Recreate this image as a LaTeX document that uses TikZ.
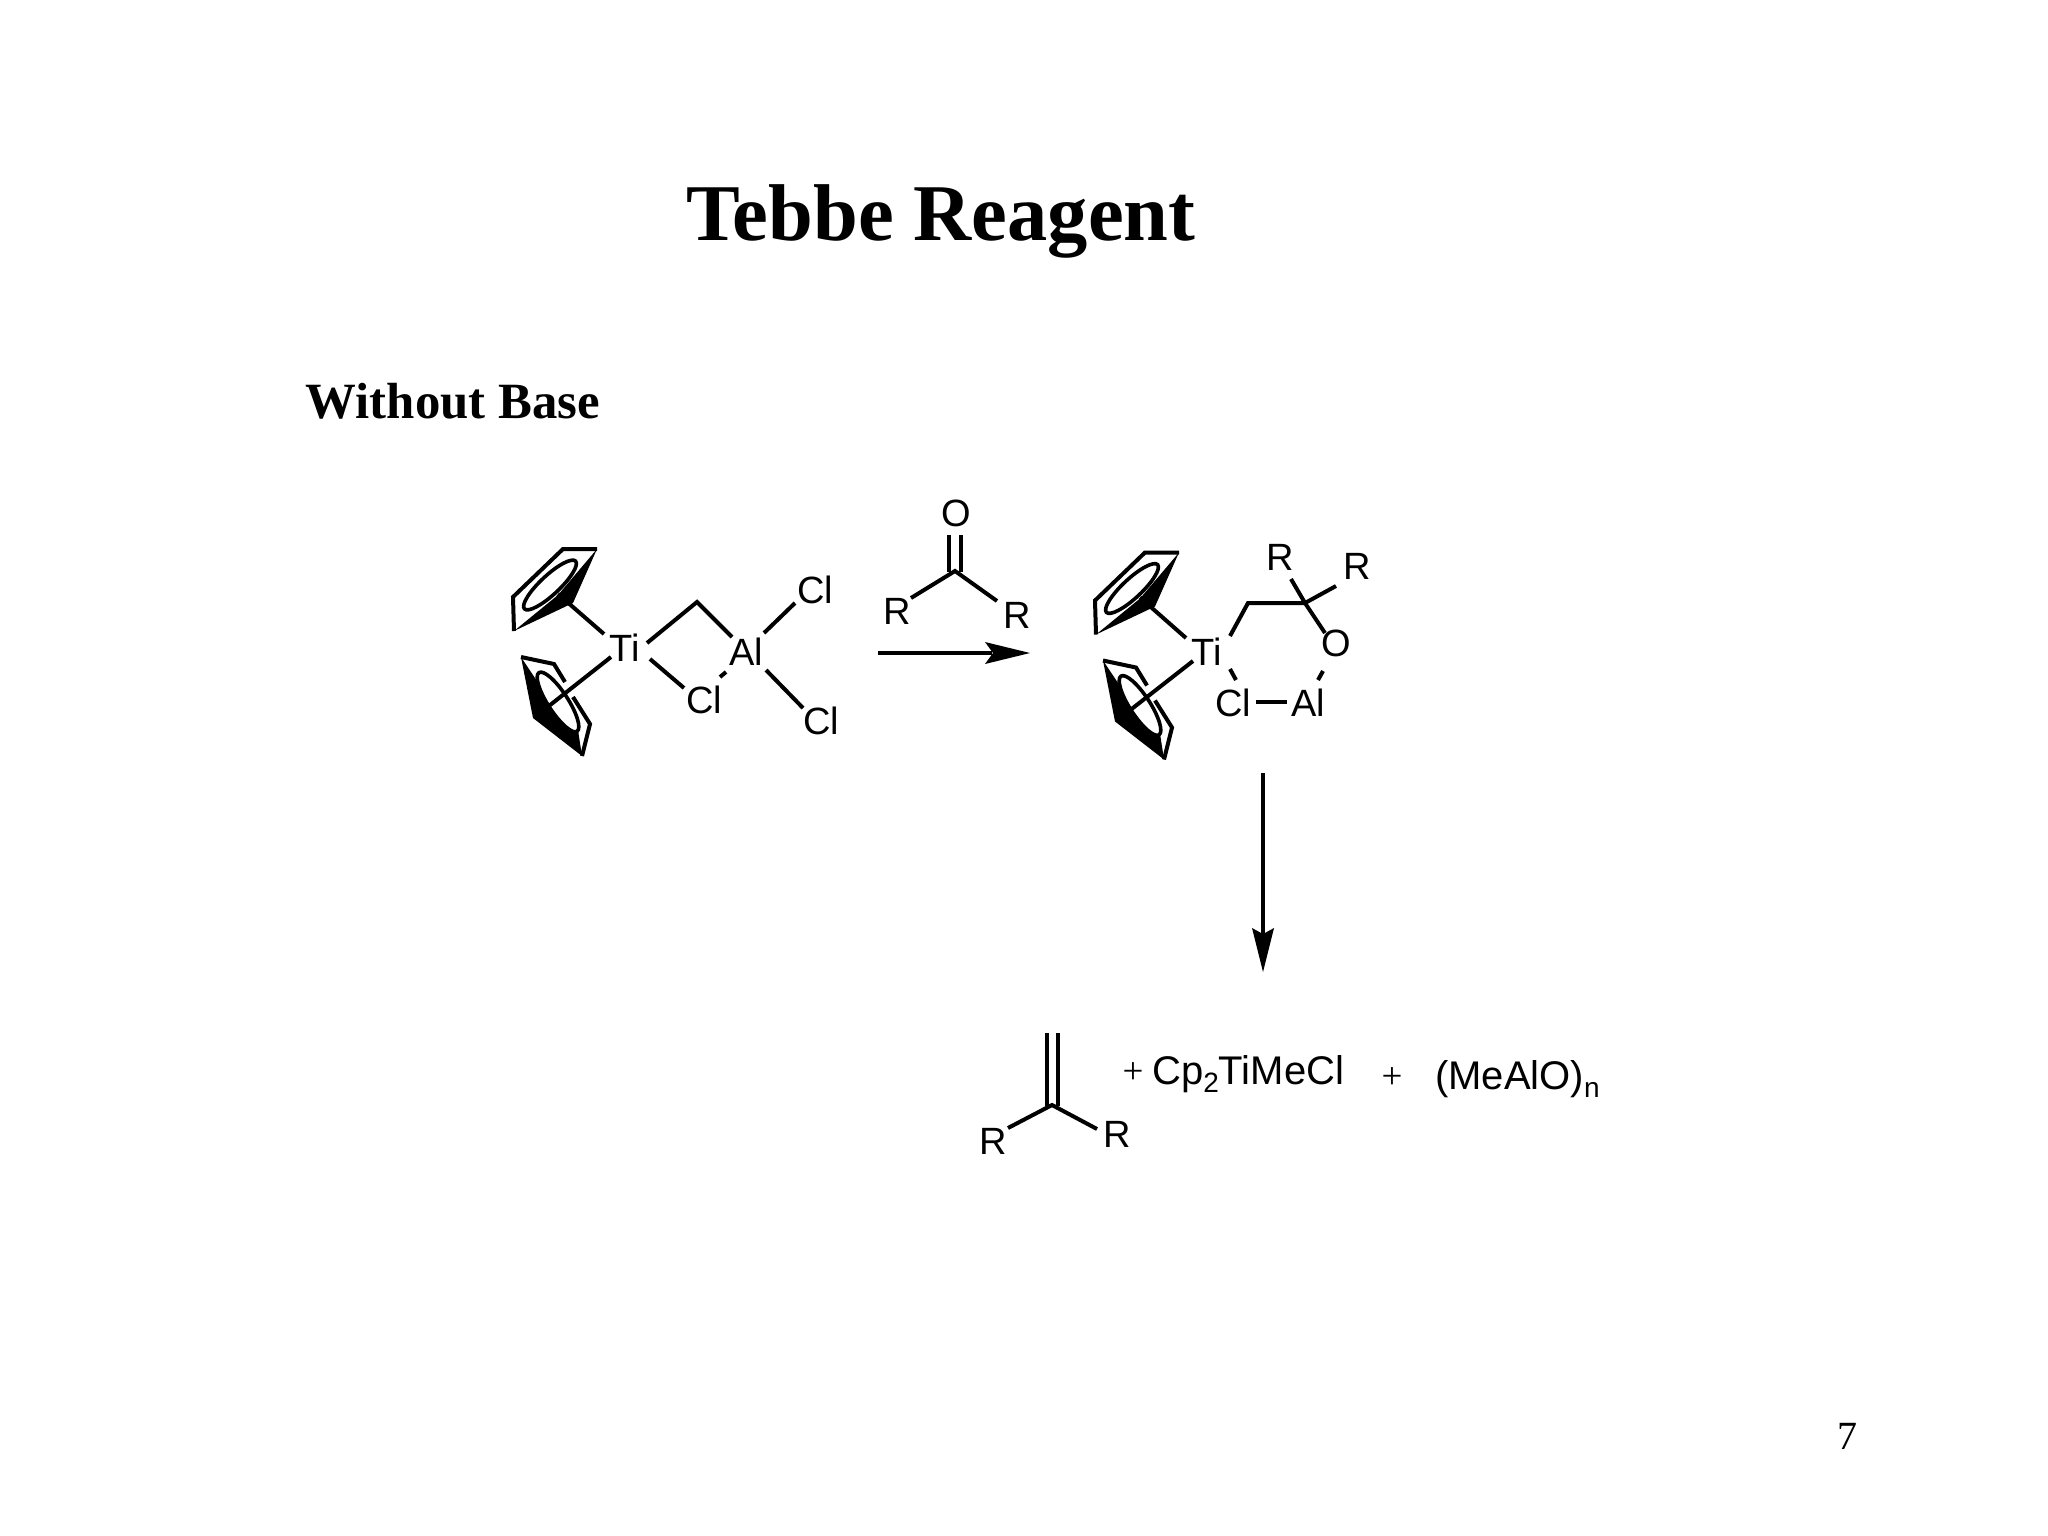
\documentclass[tikz,border=0pt]{standalone}
\usepackage{fontspec}
\usetikzlibrary{calc}
\setmainfont{Liberation Serif}
\newfontfamily\chemfont{Liberation Sans}
\newcommand{\cppair}[2]{%
\begin{scope}[shift={(#1)}]
  % upper ring
  \fill[black] (597,549) -- (573,603) -- (514,631) -- (558,595) -- cycle;
  \draw[ring] (597,549) -- (563,549) -- (513,597) -- (514,631);
  \draw[cpell,fill=white] (550,585) ellipse[x radius=35,y radius=9.5,rotate=43];
  \coordinate (#2up) at (558,594);
  % lower ring
  \fill[black] (521,657) -- (533,718) -- (582,756) -- (578,730) -- (553,705) -- cycle;
  \draw[ring] (521,657) -- (554,664) -- (565,682);
  \draw[ring] (573,697) -- (590,724) -- (582,756);
  \draw[cpell,fill=white] (558,702) ellipse[x radius=35,y radius=10,rotate=-57];
  \coordinate (#2lo) at (540,713);
\end{scope}}
\tikzset{
  bond/.style={line width=4pt},
  ring/.style={line width=4pt,line join=miter},
  cpell/.style={line width=3.6pt},
  atom/.style={font=\chemfont\fontsize{38}{38}\selectfont,inner sep=0pt},
  formula/.style={font=\chemfont\fontsize{40}{40}\selectfont,inner sep=0pt,anchor=base west},
  plussign/.style={font=\fontsize{37}{37}\selectfont,inner sep=0pt},
  arrowline/.style={line width=3.6pt},
  headtip/.style={fill=black,draw=none}
}
\begin{document}
\begin{tikzpicture}[x=1pt,y=-1pt]
\useasboundingbox (0,0) rectangle (2048,1535);
\fill[white] (0,0) rectangle (2048,1535);
% headings
\node[inner sep=0pt,font=\fontsize{80.5}{80.5}\selectfont\bfseries] (title) at (941,221) {Tebbe Reagent};
\node[inner sep=0pt,font=\fontsize{50.8}{50.8}\selectfont\bfseries] (sub) at (453,401) {Without Base};
\node[inner sep=0pt,font=\fontsize{40}{40}\selectfont] (page) at (1847,1436) {7};
% Tebbe reagent
\cppair{0,0}{ca}
\node[atom] (ti1) at (625,648) {Ti};
\node[atom] (al1) at (746,652) {Al};
\node[atom] (cla) at (815,590) {Cl};
\node[atom] (clb) at (821,721) {Cl};
\node[atom] (clc) at (704,700) {Cl};
\coordinate (ch2) at (697,602);
\draw[bond,line join=miter] ($(ti1)+(22,-5)$) -- (ch2) -- ($(al1)+(-14,-15)$);
\draw[bond] ($(ti1)+(25,11)$) -- ($(clc)+(-20,-12)$);
\draw[bond] ($(clc)+(16,-23)$) -- ($(al1)+(-20,20)$);
\draw[bond] ($(al1)+(18,-19)$) -- ($(cla)+(-20,13)$);
\draw[bond] ($(al1)+(20,18)$) -- ($(clb)+(-18,-13)$);
\draw[bond] (caup) -- ($(ti1)+(-21,-14)$);
\draw[bond] ($(ti1)+(-14,9)$) -- (calo);
% ketone
\node[atom] (oa) at (956,513) {O};
\node[atom] (ra) at (897,611) {R};
\node[atom] (rb) at (1017,615) {R};
\coordinate (cco) at (955,571);
\draw[bond] ($(oa)+(-7,22)$) -- ($(cco)+(-6,1)$);
\draw[bond] ($(oa)+(5,22)$) -- ($(cco)+(6,1)$);
\draw[bond] ($(ra)+(14,-13)$) -- (cco) -- ($(rb)+(-20,-14)$);
% arrow 1
\coordinate (a1s) at (878,653);
\coordinate (a1e) at (1030,653);
\draw[arrowline] (a1s) -- (992,653);
\fill[headtip] (a1e) -- (985,642) -- (993,653) -- (985,664) -- cycle;
% intermediate
\cppair{582,3.5}{cb}
\node[atom] (ti2) at (1207,652) {Ti};
\node[atom] (o2) at (1336,643) {O};
\node[atom] (cl2) at (1233,703) {Cl};
\node[atom] (al2) at (1308,703) {Al};
\node[atom] (r1) at (1280,557) {R};
\node[atom] (r2) at (1357,566) {R};
\coordinate (ch2b) at (1248,603);
\coordinate (c2) at (1305,603);
\draw[bond,line join=miter] ($(ti2)+(23,-16)$) -- (ch2b) -- (c2);
\draw[bond] ($(r1)+(11,22)$) -- (c2) -- ($(o2)+(-11,-10)$);
\draw[bond] (c2) -- ($(r2)+(-21,20)$);
\draw[bond] ($(ti2)+(23,17)$) -- ($(cl2)+(3,-23)$);
\draw[bond] ($(cl2)+(23,-1)$) -- ($(al2)+(-21,-1)$);
\draw[bond] ($(o2)+(-13,28)$) -- ($(al2)+(10,-23)$);
\draw[bond] (cbup) -- ($(ti2)+(-21,-14)$);
\draw[bond] ($(ti2)+(-14,9)$) -- (cblo);
% arrow 2
\coordinate (a2s) at (1263,773);
\coordinate (a2e) at (1263,972);
\draw[arrowline] (a2s) -- (1263,936);
\fill[headtip] (a2e) -- (1252,928) -- (1263,934) -- (1274,928) -- cycle;
% products
\node[atom] (r3) at (993,1141) {R};
\node[atom] (r4) at (1117,1134) {R};
\coordinate (c3) at (1052,1105);
\draw[bond] ($(c3)+(-5,-72)$) -- ($(c3)+(-5,1)$);
\draw[bond] ($(c3)+(6,-72)$) -- ($(c3)+(6,1)$);
\draw[bond] ($(r3)+(15,-13)$) -- (c3) -- ($(r4)+(-20,-5)$);
\node[plussign] (p1) at (1133,1073) {+};
\node[formula] (cp) at (1152,1084) {Cp\raisebox{-0.22em}{\fontsize{28}{28}\selectfont 2}TiMeCl};
\node[plussign] (p2) at (1392,1078) {+};
\node[formula] (mao) at (1435,1089) {(MeAlO)\raisebox{-0.22em}{\fontsize{28}{28}\selectfont n}};
\end{tikzpicture}
\end{document}
